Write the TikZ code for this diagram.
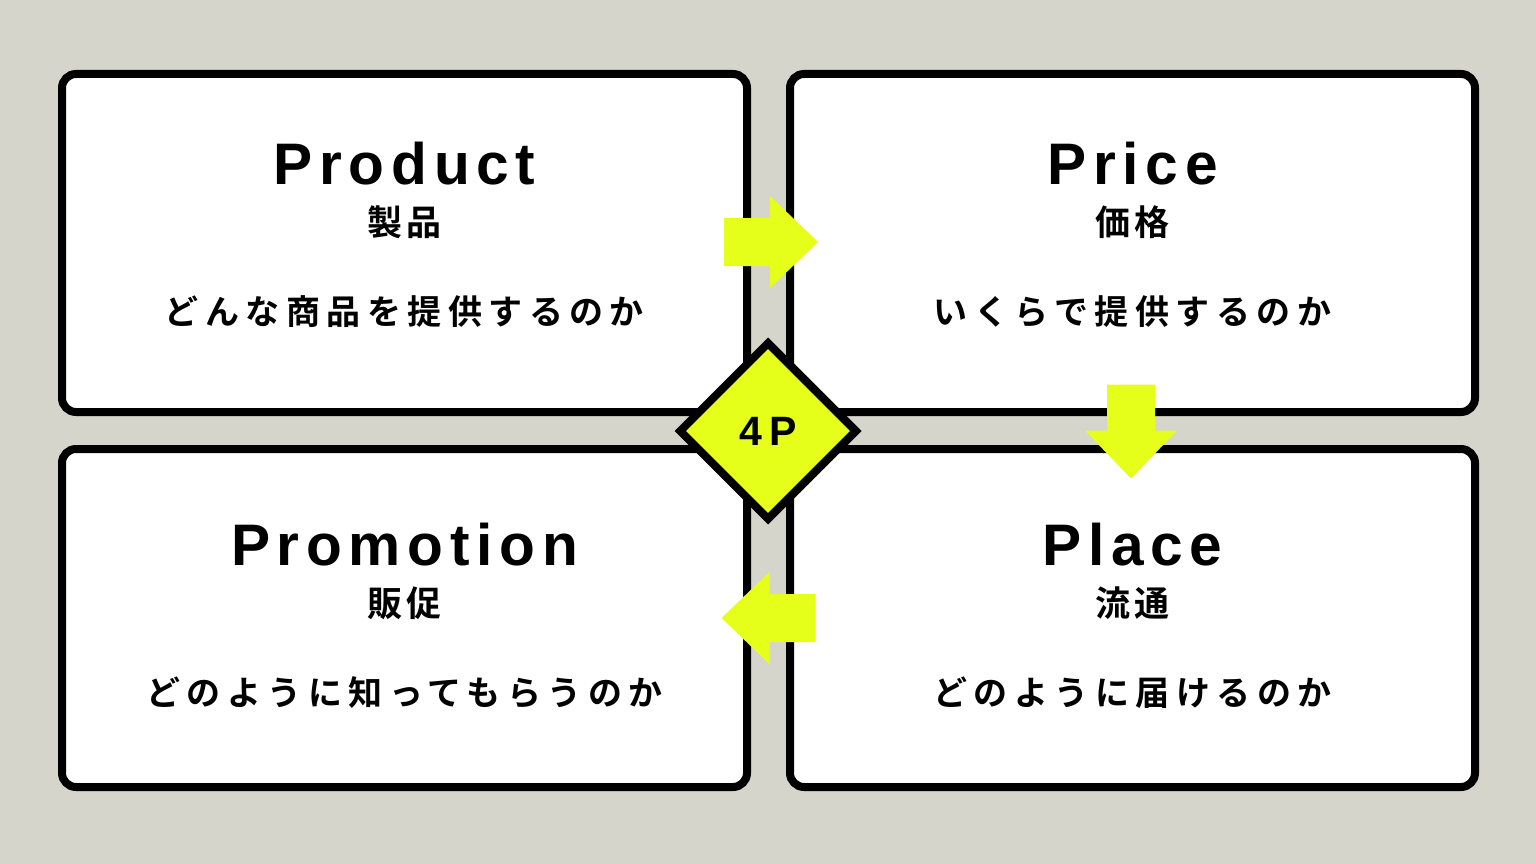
\documentclass[tikz,border=0pt]{standalone}
\usepackage{fontspec}
\usetikzlibrary{positioning,calc,shapes.geometric}
\setmainfont{Liberation Sans}
\newfontfamily\titlefont{Liberation Sans}[LetterSpace=11.5]
\newfontfamily\badgefont{Liberation Sans}[LetterSpace=18]
\newfontfamily\kanjifont{Noto Sans CJK JP Bold}[LetterSpace=10]
\newfontfamily\askfont{Noto Sans CJK JP Bold}[LetterSpace=19]
\definecolor{bgcol}{HTML}{D6D5CB}
\definecolor{limecol}{HTML}{E6FF1A}

\begin{document}
\begin{tikzpicture}[x=1pt,y=-1pt]
  \tikzset{
    node distance=43pt,
    card/.style={draw,line width=8pt,fill=white,rounded corners=14pt,minimum width=685pt,minimum height=338pt,inner sep=0pt,outer sep=0pt},
    title/.style={font=\titlefont\bfseries\fontsize{58.6}{62}\selectfont,inner sep=0pt},
    kanji/.style={font=\kanjifont\fontsize{35}{38}\selectfont,inner sep=0pt},
    ask/.style={font=\askfont\fontsize{34}{38}\selectfont,inner sep=0pt},
    badge/.style={diamond,draw,line width=8pt,fill=limecol,minimum size=179pt,inner sep=0pt,font=\badgefont\bfseries\fontsize{41}{43}\selectfont},
    fatarrow/.pic={\fill[limecol] (-47,-24) -- (-1,-24) -- (-1,-46) -- (47,0) -- (-1,46) -- (-1,24) -- (-47,24) -- cycle;}
  }
  \useasboundingbox (0,0) rectangle (1536,864);
  \fill[bgcol] (0,0) rectangle (1536,864);

  % the four cards
  \node[card] (product) at (404.5,243) {};
  \node[card,right=of product] (price) {};
  \node[card,below=37pt of product] (promotion) {};
  \node[card,below=37pt of price] (place) {};

  \foreach \card/\tit/\kan/\ask/\dy in {product/Product/製品/どんな商品を提供するのか/0,
      price/Price/価格/いくらで提供するのか/0,
      promotion/Promotion/販促/どのように知ってもらうのか/6,
      place/Place/流通/どのように届けるのか/6}{
    \node[title] (\card-title) at ($(\card.north)+(0,90+\dy)$) {\tit};
    \node[kanji] (\card-kanji) at ($(\card.north)+(0,148+\dy)$) {\kan};
    \node[ask] (\card-ask) at ($(\card.north)+(0,238+\dy)$) {\ask};
  }

  % arrows between the cards
  \pic at (771,242) {fatarrow};
  \pic[rotate=-90] at (1131,431.5) {fatarrow};
  \pic[rotate=180] at (768.5,618) {fatarrow};

  \node[badge] (fourp) at (768,431) {4P};
\end{tikzpicture}
\end{document}
